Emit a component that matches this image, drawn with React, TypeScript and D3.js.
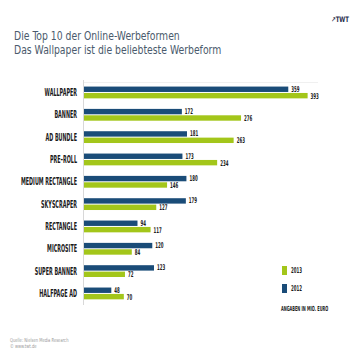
import React, { useEffect, useRef } from 'react';
import * as d3 from 'd3';

// Data
const categories = ['WALLPAPER', 'BANNER', 'AD BUNDLE', 'PRE–ROLL', 'MEDIUM RECTANGLE', 'SKYSCRAPER', 'RECTANGLE', 'MICROSITE', 'SUPER BANNER', 'HALFPAGE AD'];
const values2012 = [359, 172, 181, 173, 180, 179, 94, 120, 123, 48];
const values2013 = [393, 276, 263, 234, 146, 127, 117, 84, 72, 70];
const seriesNames = ['2013', '2012'];
const titleLines = ['Die Top 10 der Online-Werbeformen', 'Das Wallpaper ist die beliebteste Werbeform'];
const sourceLines = ['Quelle: Nielsen Media Research', '© www.twt.de'];

const BLUE = '#1a4c78';
const GREEN = '#a3c61a';
const NARROW = '"Liberation Sans Narrow", "DejaVu Sans Condensed", sans-serif';

const App = () => {
    const svgRef = useRef<SVGSVGElement>(null);

    useEffect(() => {
        const width = 360;
        const height = 360;

        const svg = d3.select(svgRef.current)
            .attr('width', width)
            .attr('height', height)
            .style('position', 'absolute')
            .style('left', '0px')
            .style('top', '0px')
            .style('background', '#fff');

        svg.selectAll('*').remove();

        // squeezed text helper (the original uses a very condensed face)
        const label = (x, y, text, opts) => {
            const g = svg.append('g').attr('transform', `translate(${x},${y})`);
            g.append('text')
                .attr('transform', `scale(${opts.sx},1)`)
                .attr('text-anchor', opts.anchor || 'start')
                .attr('dominant-baseline', opts.baseline || 'auto')
                .attr('font-family', NARROW)
                .attr('font-weight', opts.weight || 'bold')
                .attr('font-size', opts.size)
                .attr('fill', opts.fill || '#1b1b1b')
                .text(text);
        };

        // Title
        titleLines.forEach((t, i) => {
            label(14, 39.5 + i * 14.5, t, { sx: 0.86, size: 12, weight: 'normal', fill: '#4a5a6c' });
        });
        label(349, 22, '↗TWT', { sx: 0.8, size: 7.5, anchor: 'end', fill: '#1d2b4a' });

        // Scales
        const x = d3.scaleLinear().domain([0, 400]).range([84, 311.6]);
        const y = d3.scaleBand().domain(categories).range([81.3, 304.6]).padding(0);
        const barH = 5.4;

        // axis line
        svg.append('line')
            .attr('x1', 83.5).attr('x2', 83.5)
            .attr('y1', 80).attr('y2', 305)
            .attr('stroke', '#d8d8d8').attr('stroke-width', 1);
        svg.append('line')
            .attr('x1', 84).attr('x2', 318)
            .attr('y1', 82.5).attr('y2', 82.5)
            .attr('stroke', '#f0f0f0').attr('stroke-width', 1);

        const rows = categories.map((c, i) => ({ c, v12: values2012[i], v13: values2013[i] }));

        rows.forEach(r => {
            const cy = y(r.c) + y.bandwidth() / 2;
            label(77, cy + 0.5, r.c, { sx: 0.49, size: 11, anchor: 'end', baseline: 'middle' });

            svg.append('rect')
                .attr('x', x(0)).attr('y', cy - 0.5 - barH)
                .attr('width', x(r.v12) - x(0)).attr('height', barH)
                .attr('fill', BLUE);
            svg.append('rect')
                .attr('x', x(0)).attr('y', cy + 0.5)
                .attr('width', x(r.v13) - x(0)).attr('height', barH)
                .attr('fill', GREEN);

            label(x(r.v12) + 3, cy - 3, String(r.v12), { sx: 0.55, size: 8, baseline: 'middle' });
            label(x(r.v13) + 3, cy + 4, String(r.v13), { sx: 0.55, size: 8, baseline: 'middle' });
        });

        // Legend
        [GREEN, BLUE].forEach((col, i) => {
            const ly = 266 + i * 18;
            svg.append('rect').attr('x', 282).attr('y', ly).attr('width', 5).attr('height', 9).attr('fill', col);
            label(291, ly + 5, seriesNames[i], { sx: 0.55, size: 8, baseline: 'middle' });
        });
        label(281, 309, 'ANGABEN IN MIO. EURO', { sx: 0.56, size: 7, baseline: 'middle' });

        // Source
        sourceLines.forEach((t, i) => {
            label(10, 342 + i * 5.5, t, { sx: 0.75, size: 5.5, weight: 'normal', fill: '#9a9a9a' });
        });
    }, []);

    return <svg ref={svgRef}></svg>;
};

export default App;
